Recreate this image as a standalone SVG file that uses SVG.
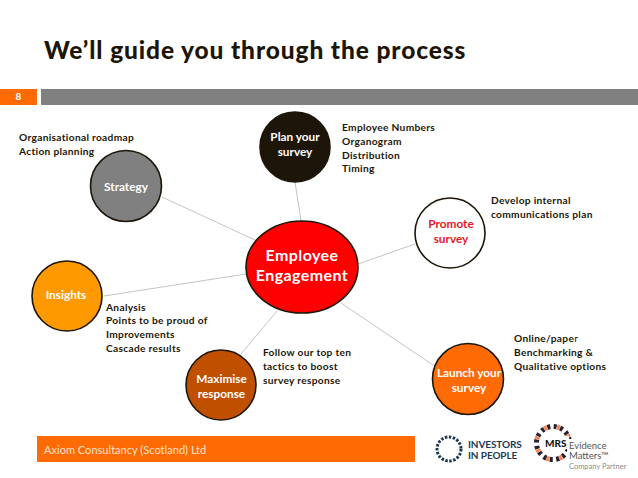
<svg xmlns="http://www.w3.org/2000/svg" width="638" height="478" viewBox="0 0 638 478">
<style>
text{font-family:"Lato","Noto Sans",sans-serif}
.n{stroke:#1d1608;stroke-width:1.6}
.c{stroke:#c4c4c4;stroke-width:1;fill:none}
.l{font-size:10.2px;font-weight:700;fill:#1d1608;letter-spacing:.3px}
.w{font-size:11.8px;font-weight:700;fill:#fff;text-anchor:middle}
.e{font-size:16px;font-weight:700;fill:#fff;text-anchor:middle;letter-spacing:.4px}
</style>
<rect width="638" height="478" fill="#fff"/>
<text x="44" y="59" font-size="24.5" font-weight="900" fill="#1d1608" letter-spacing=".88">We’ll guide you through the process</text>
<rect x="0" y="89" width="37" height="16" fill="#fe6a04"/>
<rect x="41" y="89" width="597" height="16" fill="#808080"/>
<text x="18.500" y="100" font-size="10" font-weight="700" fill="#fff" text-anchor="middle">8</text>
<g id="connectors">
<line class="c" x1="162" y1="197" x2="257" y2="241"/>
<line class="c" x1="295" y1="182" x2="301" y2="221"/>
<line class="c" x1="358" y1="264" x2="415" y2="244"/>
<line class="c" x1="341" y1="303" x2="433" y2="365"/>
<line class="c" x1="277" y1="311" x2="241" y2="354"/>
<line class="c" x1="104" y1="296" x2="246" y2="274"/>
</g>
<g id="node-center"><ellipse class="n" cx="302" cy="267" rx="56" ry="46" fill="#fe0000"/>
<text class="e" x="302" y="261">Employee</text>
<text class="e" x="302" y="281">Engagement</text></g>
<g id="node-plan"><circle class="n" cx="295" cy="147" r="35" fill="#1d1608"/>
<text class="w" x="295" y="141">Plan your</text><text class="w" x="295" y="156">survey</text></g>
<g id="node-strategy"><circle class="n" cx="126" cy="186" r="35.500" fill="#808080"/>
<text class="w" x="126" y="191">Strategy</text></g>
<g id="node-promote"><circle class="n" cx="450" cy="233" r="35" fill="#fff"/>
<text class="w" x="451" y="228" style="fill:#e2182d">Promote</text><text class="w" x="451" y="243" style="fill:#e2182d">survey</text></g>
<g id="node-insights"><circle class="n" cx="67" cy="296" r="35" fill="#fe9900"/>
<text class="w" x="66" y="299">Insights</text></g>
<g id="node-maximise"><circle class="n" cx="221" cy="385" r="35" fill="#c05000"/>
<text class="w" x="221.500" y="383">Maximise</text><text class="w" x="221.500" y="398">response</text></g>
<g id="node-launch"><circle class="n" cx="468" cy="379" r="35.500" fill="#fe6a04"/>
<text class="w" x="469" y="377">Launch your</text><text class="w" x="469" y="392">survey</text></g>
<g id="labels">
<text class="l" x="19" y="141">Organisational roadmap</text>
<text class="l" x="19" y="155">Action planning</text>
<text class="l" x="342" y="131">Employee Numbers</text>
<text class="l" x="342" y="145">Organogram</text>
<text class="l" x="342" y="159">Distribution</text>
<text class="l" x="342" y="172">Timing</text>
<text class="l" x="491" y="204">Develop internal</text>
<text class="l" x="491" y="218">communications plan</text>
<text class="l" x="106" y="311">Analysis</text>
<text class="l" x="106" y="324">Points to be proud of</text>
<text class="l" x="106" y="338">Improvements</text>
<text class="l" x="106" y="352">Cascade results</text>
<text class="l" x="263" y="356">Follow our top ten</text>
<text class="l" x="263" y="370">tactics to boost</text>
<text class="l" x="263" y="384">survey response</text>
<text class="l" x="514" y="342">Online/pape<tspan font-weight="400">r</tspan></text>
<text class="l" x="514" y="356">Benchmarking &amp;</text>
<text class="l" x="514" y="370">Qualitative options</text>
</g>
<rect x="37" y="436" width="378" height="26" fill="#fe6a04"/>
<text x="44" y="454" font-size="11" fill="#ffe3c8" letter-spacing=".03">Axiom Consultancy (Scotland) Ltd</text>
<g id="logos">
<circle cx="449" cy="449" r="12" fill="none" stroke="#1c3a55" stroke-width="3" stroke-dasharray="2.500 1.500"/>
<text x="468" y="448" font-size="10" font-weight="700" fill="#1c3a55" letter-spacing="-.1">INVESTORS</text>
<text x="468" y="459" font-size="10" font-weight="700" fill="#1c3a55" letter-spacing="-.1">IN PEOPLE</text>
<circle cx="553" cy="443" r="16.500" fill="none" stroke="#2a2030" stroke-width="5" stroke-dasharray="3 3.500"/>
<circle cx="553" cy="443" r="16.500" fill="none" stroke="#f08a5a" stroke-width="5" stroke-dasharray="3 10" stroke-dashoffset="-3.250"/>
<rect x="541" y="436" width="28" height="13" fill="#fff"/>
<rect x="567" y="439" width="42" height="22" fill="#fff"/>
<text x="545" y="447" font-size="10" font-weight="900" fill="#151515">MRS</text>
<text x="569" y="449" font-size="9.500" fill="#555">Evidence</text>
<text x="569" y="459" font-size="9.500" fill="#555">Matters™</text>
<text x="569" y="469" font-size="7.500" fill="#8a8a8a">Company Partner</text>
</g>
</svg>
